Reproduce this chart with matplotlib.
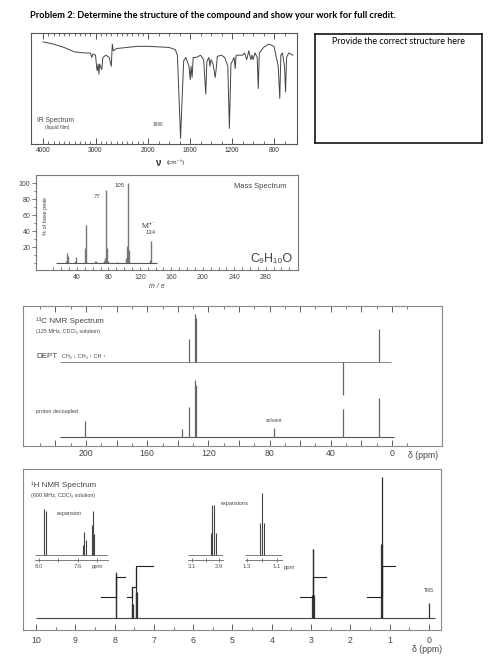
from matplotlib import pyplot as plt
import numpy as np

# ---- data ----
ir_wavenumber = [4000, 3800, 3600, 3400, 3200, 3100, 3070, 3050, 3000, 2980, 2970,
                 2950, 2935, 2920, 2880, 2860, 2800, 2740, 2700, 2680, 2660, 2600,
                 2400, 2200, 2000, 1800, 1740, 1720, 1700, 1690, 1680, 1660, 1640,
                 1610, 1598, 1590, 1580, 1570, 1540, 1500, 1470, 1450, 1440, 1420,
                 1410, 1400, 1380, 1360, 1350, 1340, 1300, 1270, 1240, 1225, 1210,
                 1180, 1170, 1160, 1100, 1080, 1060, 1040, 1020, 1010, 1000, 980,
                 960, 950, 940, 900, 850, 800, 760, 745, 735, 720, 700, 690, 680,
                 660, 620]
ir_transmittance = [92, 90, 87, 83, 82, 82, 78, 81, 80, 70, 66,
                    72, 63, 72, 67, 78, 80, 78, 70, 90, 84, 86,
                    87, 88, 88, 87, 85, 80, 30, 5, 30, 75, 78,
                    70, 58, 70, 60, 78, 78, 80, 76, 45, 74, 78,
                    70, 76, 72, 60, 68, 79, 80, 78, 70, 14, 72,
                    78, 68, 80, 80, 82, 76, 84, 76, 80, 76, 82,
                    78, 50, 82, 87, 90, 88, 70, 41, 80, 82, 70, 47, 78,
                    82, 80]
ir_ticks = [4000, 3000, 2000, 1600, 1200, 800]

ms_mz = [26, 27, 29, 38, 39, 50, 51, 52, 63, 64, 74, 75, 76, 77, 78, 79, 91,
         103, 104, 105, 106, 133, 134]
ms_intensity = [3, 12, 9, 3, 7, 19, 48, 3, 2, 2, 3, 3, 6, 91, 19, 2, 1,
                6, 21, 100, 16, 4, 27]

c13_dept_shift = [133.0, 128.6, 128.0, 31.8, 8.3]
c13_dept_height = [23, 48, 44, -33, 33]
c13_full_shift = [200.8, 137.0, 133.0, 128.6, 128.0, 77.0, 31.8, 8.3]
c13_full_height = [16, 8, 30, 57, 52, 9, 28, 39]

h1_shift = [7.965, 7.953, 7.562, 7.550, 7.538, 7.457, 7.445, 7.433,
            2.970, 2.958, 2.946, 2.934, 1.212, 1.200, 1.188, 0.0]
h1_height = [46, 44, 14, 30, 14, 26, 51, 26, 23, 69, 69, 23, 74, 141, 74, 15]
h1_integral_x = [[8.35, 7.96, 7.74], [7.68, 7.55, 7.45, 7.02],
                 [3.28, 2.95, 2.62], [1.58, 1.20, 0.87]]
h1_integral_y = [[21, 41, 41], [21, 31, 52, 52], [21, 41, 41], [21, 52, 52]]

exp1_shift = [7.945, 7.933, 7.550, 7.538, 7.518, 7.458, 7.446, 7.434]
exp1_height = [46, 44, 10, 23, 15, 30, 44, 21]
exp2_shift = [2.962, 2.950, 2.935, 2.922]
exp2_height = [22, 50, 50, 22]
exp3_shift = [1.212, 1.200, 1.188]
exp3_height = [32, 62, 32]

W, H = 497, 661
GREY = '#444444'
SANS = ['Liberation Sans', 'DejaVu Sans']
plt.rcParams['font.family'] = SANS

fig = plt.figure(figsize=(W / 100, H / 100), dpi=100)


def box(x0, y0, x1, y1):
    return fig.add_axes([x0 / W, 1 - y1 / H, (x1 - x0) / W, (y1 - y0) / H])


def ftext(x, y, s, **kw):
    kw.setdefault('va', 'center')
    kw.setdefault('color', GREY)
    fig.text(x / W, 1 - y / H, s, **kw)


def frame(ax, color='#777777', lw=0.8):
    for sp in ax.spines.values():
        sp.set_color(color)
        sp.set_linewidth(lw)


ftext(30, 16, 'Problem 2: Determine the structure of the compound and show your work for full credit.',
      fontsize=6.7, fontweight='bold', family=['Lato', 'DejaVu Sans'], color='black')

# answer box
ax = box(315, 34, 482, 143)
ax.set_xticks([])
ax.set_yticks([])
frame(ax, 'black', 1.1)
ftext(398, 42, 'Provide the correct structure here', ha='center', fontsize=6.4,
      family=['Lato', 'DejaVu Sans'], color='black')

# ---- IR ----
def ir_fwd(nu):
    nu = np.asarray(nu, dtype=float)
    return np.where(nu >= 2000, (nu - 2000) / 2000, (nu - 2000) / 1000)


def ir_inv(u):
    u = np.asarray(u, dtype=float)
    return np.where(u >= 0, 2000 + 2000 * u, 2000 + 1000 * u)


ax = box(31, 33, 297, 144)
ax.set_xscale('function', functions=(ir_fwd, ir_inv))
ax.plot(ir_wavenumber, ir_transmittance, color='#444444', lw=0.7)
ax.set_xlim(4229, 581)
ax.set_ylim(0, 100)
ax.set_xticks(ir_ticks)
ax.set_xticklabels([str(t) for t in ir_ticks])
ax.set_xticks(np.arange(4000, 600, -100), minor=True)
ax.set_yticks([])
ax.tick_params(axis='x', which='both', direction='in', top=True, labelsize=4.8,
               colors='#333333', pad=2)
ax.tick_params(axis='x', which='major', length=4, width=0.6)
ax.tick_params(axis='x', which='minor', length=2, width=0.5)
frame(ax, '#555555')
ftext(37, 121, 'IR Spectrum', fontsize=4.8)
ftext(45, 127, '(liquid film)', fontsize=3.6)
ftext(158, 125, '1690', ha='center', fontsize=3.4)
ftext(158, 163, 'ν', ha='center', fontsize=7, fontweight='bold', color='#333333')
ftext(176, 162, '(cm⁻¹)', ha='center', fontsize=4.6, color='#333333')

# ---- mass spectrum ----
ax = box(36, 175, 298, 270)
ax.vlines(ms_mz, 0, ms_intensity, color='#777777', lw=1.0)
ax.hlines(0, 13, 142, color='#555555', lw=0.8)
ax.set_xlim(-12, 321)
ax.set_ylim(-8.75, 110)
ax.set_xticks(np.arange(40, 281, 40))
ax.set_xticks(np.arange(10, 320, 10), minor=True)
ax.set_yticks(np.arange(20, 101, 20))
ax.set_yticks(np.arange(0, 101, 10), minor=True)
ax.tick_params(axis='x', which='both', direction='in', labelsize=5, colors='#444444', pad=3)
ax.tick_params(axis='x', which='major', length=2.5, width=0.5)
ax.tick_params(axis='x', which='minor', length=2, width=0.5)
ax.tick_params(axis='y', which='both', direction='out', labelsize=5, colors='#444444', pad=1)
ax.tick_params(axis='y', which='major', length=3, width=0.5)
ax.tick_params(axis='y', which='minor', length=1.5, width=0.5)
frame(ax, '#777777')
ftext(97, 196, '77', ha='center', fontsize=4.3)
ftext(120, 185, '105', ha='center', fontsize=4.3)
ftext(148, 227, 'M⁺˙', ha='center', fontsize=6)
ftext(151, 233, '134', ha='center', fontsize=4.3)
ftext(260, 186, 'Mass Spectrum', ha='center', fontsize=5.4)
ftext(271, 259, 'C₉H₁₀O', ha='center', fontsize=9)
ftext(45, 216, '% of base peak', ha='center', rotation=90, fontsize=4)
ftext(157, 286, 'm / e', ha='center', fontsize=5, style='italic')

# ---- 13C NMR ----
ax = box(23, 306, 442, 446)
dept_base = 75
ax.hlines(dept_base, 0.7, 217, color='#888888', lw=0.7)
ax.hlines(0, -1.3, 217, color='#555555', lw=0.8)
ax.vlines(c13_dept_shift, dept_base, [dept_base + h for h in c13_dept_height],
          color='#666666', lw=0.9)
ax.vlines(c13_full_shift, 0, c13_full_height, color='#666666', lw=0.9)
ax.set_xlim(241.2, -32.7)
ax.set_ylim(-9, 131)
major = np.arange(220, -1, -20)
ax.set_xticks(major)
ax.set_xticklabels([str(int(t)) if t % 40 == 0 else '' for t in major])
ax.set_xticks(np.arange(230, -11, -10), minor=True)
ax.set_yticks([])
ax.tick_params(axis='x', which='both', direction='in', top=True, labelsize=6.3,
               colors='#444444', pad=2)
ax.tick_params(axis='x', which='major', length=4, width=0.6)
ax.tick_params(axis='x', which='minor', length=2.5, width=0.5)
frame(ax, '#888888')
ftext(36, 321, '¹³C NMR Spectrum', fontsize=5.8)
ftext(36, 332, '(125 MHz, CDCl₃ solution)', fontsize=3.9)
ftext(36, 356, 'DEPT', fontsize=5.8)
ftext(62, 356, 'CH₂ ↓ CH₃ ↑ CH ↑', fontsize=3.9)
ftext(36, 411, 'proton decoupled', fontsize=3.9)
ftext(274, 421, 'solvent', ha='center', fontsize=3.7)
ftext(423, 455, 'δ (ppm)', ha='center', fontsize=6.3)

# ---- 1H NMR ----
ax = box(23, 469, 441, 630)
ax.hlines(0, -0.15, 10.0, color='#444444', lw=0.8)
ax.vlines(h1_shift, 0, h1_height, color='#333333', lw=0.9)
for xs, ys in zip(h1_integral_x, h1_integral_y):
    ax.step(xs, ys, where='post', color='#222222', lw=0.8)
ax.set_xlim(10.33, -0.305)
ax.set_ylim(-12, 149)
ax.set_xticks(np.arange(0, 11, 1))
ax.set_xticks(np.arange(0.5, 10, 1), minor=True)
ax.set_yticks([])
ax.tick_params(axis='x', which='both', direction='in', labelsize=6.3,
               colors='#444444', pad=4)
ax.tick_params(axis='x', which='major', length=4, width=0.6)
ax.tick_params(axis='x', which='minor', length=2.5, width=0.5)
frame(ax, '#888888')
ftext(31, 485, '¹H NMR Spectrum', fontsize=5.8)
ftext(31, 495, '(600 MHz, CDCl₃ solution)', fontsize=3.9)
ftext(69, 514, 'expansion', ha='center', fontsize=4)
ftext(235, 503, 'expansions', ha='center', fontsize=4)
ftext(429, 591, 'TMS', ha='center', fontsize=3.5)
ftext(427, 649, 'δ (ppm)', ha='center', fontsize=6.3)


def inset(x0, x1, lim, shifts, heights, ticks, labels):
    a = box(x0, 485, x1, 560)
    a.hlines(0, lim[0], lim[1], color='#666666', lw=0.6)
    a.vlines(shifts, 0, heights, color='#444444', lw=0.8)
    a.set_xlim(*lim)
    a.set_ylim(-5, 70)
    a.set_yticks([])
    a.set_xticks(ticks)
    a.set_xticklabels(labels)
    a.tick_params(axis='x', direction='inout', length=2.5, width=0.5, labelsize=4.3,
                  colors='#555555', pad=1.5)
    for s in ['top', 'left', 'right']:
        a.spines[s].set_visible(False)
    a.spines['bottom'].set_color('#666666')
    a.spines['bottom'].set_linewidth(0.6)
    a.patch.set_alpha(0)
    return a


inset(35, 108, (8.041, 7.292), exp1_shift, exp1_height,
      [8.0, 7.8, 7.6, 7.4], ['8.0', '', '7.6', 'ppm'])
inset(188, 223, (3.130, 2.870), exp2_shift, exp2_height,
      [3.1, 3.0, 2.9], ['3.1', '', '2.9'])
inset(245, 282, (1.313, 1.067), exp3_shift, exp3_height,
      [1.3, 1.2, 1.1], ['1.3', '', '1.1'])
ftext(284, 567, 'ppm', fontsize=4.3, color='#555555')

fig.savefig('out.png', dpi=100)
